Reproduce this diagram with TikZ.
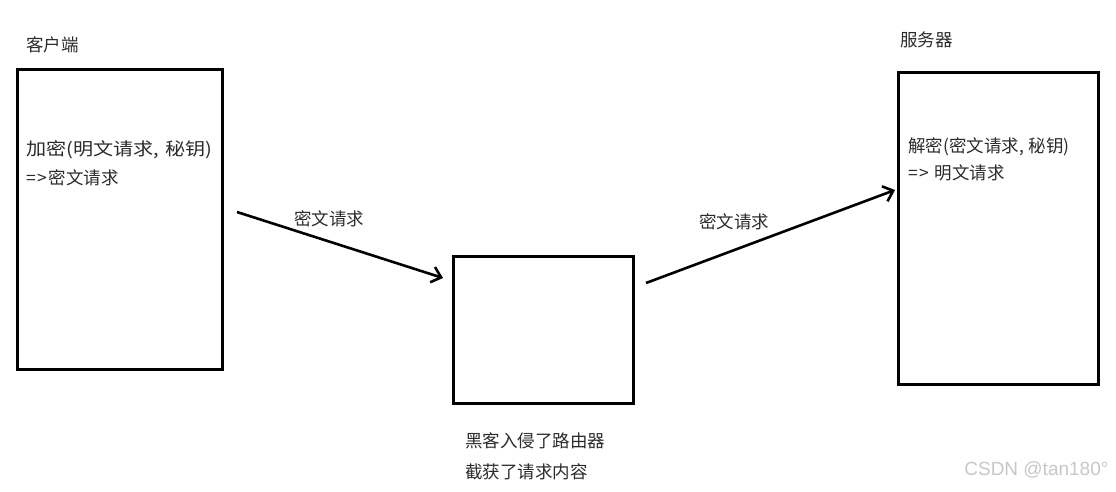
\documentclass[tikz,border=0pt]{standalone}
\usepackage{fontspec}
\setmainfont{Noto Sans CJK SC}
\newfontfamily\wmfont{Liberation Sans}
\usepackage{xcolor}
\usepackage{graphicx}
\usetikzlibrary{arrows.meta}

\definecolor{inkgray}{HTML}{2B2B2B}
\tikzset{
  box/.style={draw=black, line width=3pt, anchor=north west, inner sep=0pt},
  txt/.style={anchor=west, text=inkgray, inner sep=0pt, font=\fontsize{17.5}{21}\selectfont},
  msg/.style={line width=2.6pt, -{Straight Barb[length=9pt,width=16pt,line width=2.6pt]}},
}

\begin{document}
\begin{tikzpicture}[x=1pt,y=-1pt]
 \useasboundingbox (0,0) rectangle (1116,491);
  % the three boxes
  \node[box, minimum width=205pt, minimum height=300pt] (client) at (16,68) {};
  \node[box, minimum width=180pt, minimum height=147pt] (router) at (452,255) {};
  \node[box, minimum width=200pt, minimum height=312pt] (server) at (897,71) {};
  % titles and texts
  \node[txt] (clienttitle) at (26,45) {客户端};
  \node[txt] (servertitle) at (900,40) {服务器};
  \node[txt] (enc1) at (26,150) {\scalebox{1.15}[1]{加密(明文请求,\hspace{5pt}秘钥)}};
  \node[txt] (enc2) at (26,178) {=\hspace{2pt}>\hspace{1pt}密文请求};
  \node[txt] (dec1) at (908,147) {解密(密文请求,\hspace{5pt}秘钥)};
  \node[txt] (dec2) at (908,173) {=\hspace{2pt}>\hspace{5pt}明文请求};
  \node[txt] (hack1) at (465,441) {黑客入侵了路由器};
  \node[txt] (hack2) at (465,472) {截获了请求内容};
  % messages
  \coordinate (out1) at ([shift={(13pt,-144pt)}]client.north east);
  \coordinate (in1) at ([shift={(-9pt,-23pt)}]router.north west);
  \coordinate (out2) at ([shift={(11pt,-28pt)}]router.north east);
  \coordinate (in2) at ([shift={(-2pt,-119pt)}]server.north west);
  \draw[msg] (out1) -- (in1);
  \draw[msg] (out2) -- (in2);
  \node[txt, anchor=center] (lab1) at (329,219) {密文请求};
  \node[txt, anchor=center] (lab2) at (734,222) {密文请求};
  % watermark
  \node[anchor=east, text=black!22, font=\wmfont\fontsize{19}{22}\selectfont] (mark) at (1112,470) {CSDN @tan180°};
\end{tikzpicture}
\end{document}
